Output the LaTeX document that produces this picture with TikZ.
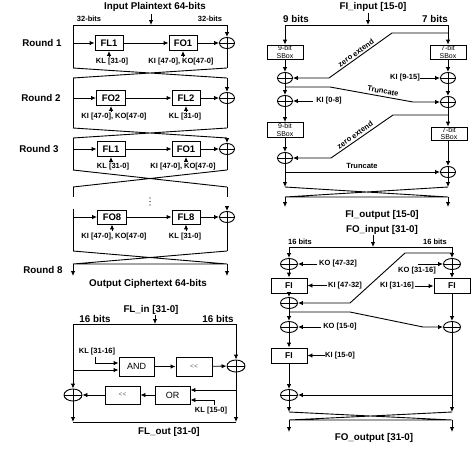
\documentclass[tikz,border=0pt]{standalone}
\usepackage{fontspec}
\setmainfont{Liberation Sans}
\usetikzlibrary{arrows.meta,shapes.geometric,calc}
\tikzset{
  ln/.style={line width=0.9pt},
  arr/.style={line width=0.9pt,-{Latex[length=5pt,width=4.5pt]}},
  bx/.style={draw, line width=0.9pt, inner sep=0pt, font=\fontsize{9.5}{10}\selectfont\bfseries},
  rb/.style={bx, minimum width=28pt, minimum height=15pt},
  fib/.style={bx, minimum width=36pt, minimum height=15pt, font=\fontsize{8.5}{9}\selectfont\bfseries},
  opb/.style={draw, line width=0.9pt, inner sep=0pt, minimum width=35pt, minimum height=19pt, font=\fontsize{9}{10}\selectfont},
  shb/.style={opb, font=\fontsize{6.5}{8}\selectfont\color{black!60}},
  sbox/.style={draw, line width=0.8pt, minimum width=36pt, minimum height=14pt, inner sep=0pt, align=center, font=\fontsize{7}{7.5}\selectfont},
  xorn/.style={draw, ellipse, inner sep=0pt, minimum width=15pt, minimum height=11pt, line width=0.9pt,
     path picture={\draw[line width=0.9pt] (path picture bounding box.north) -- (path picture bounding box.south) (path picture bounding box.west) -- (path picture bounding box.east);}},
  lbl/.style={font=\fontsize{7.5}{8}\selectfont\bfseries, inner sep=0.5pt},
  ttl/.style={font=\fontsize{9.8}{10}\selectfont\bfseries, inner sep=0.5pt},
}
\begin{document}
\begin{tikzpicture}[x=1pt,y=-1pt]
\useasboundingbox[fill=white] (0,0) rectangle (474,451);

% ================= LEFT: rounds =================
\node[ttl] (inp) at (155,7) {Input Plaintext 64-bits};
\coordinate (inpa) at (151,14);
\node[lbl] (b32l) at (89,19) {32-bits};
\node[lbl] (b32r) at (210,19) {32-bits};
\coordinate (r1tl) at (73,25); \coordinate (r1tr) at (227,25);
\coordinate (r1bl) at (73,68); \coordinate (r1br) at (227,68);
\draw[arr] (inpa) -- (inpa |- r1tl);

% Round 1
\node[ttl] (rd1) at (42,43) {Round 1};
\node[rb] (fl1) at (109,43) {FL1};
\node[rb] (fo1) at (183,43) {FO1};
\node[xorn] (x1) at (227,43) {};
\draw[ln] (r1bl) -- (r1tl) -- (r1tr);
\draw[arr] (r1tr) -- (x1);
\draw[ln] (x1) -- (r1br);
\draw[arr] (r1tl |- fl1) -- (fl1);
\draw[arr] (fl1) -- (fo1);
\draw[arr] (fo1) -- (x1);
\node[lbl] (k1a) at (112,62) {KL [31-0]};
\node[lbl] (k1b) at (181,62) {KI [47-0], KO[47-0]};
\draw[arr] (k1a.north -| fl1) ++(0,-2) -- (fl1);
\draw[arr] (k1b.north -| fo1) ++(0,-2) -- (fo1);

% Round 2
\coordinate (r2tl) at (73,78); \coordinate (r2tr) at (227,78);
\coordinate (r2bl) at (73,128); \coordinate (r2br) at (227,128);
\draw[ln] (r1bl) -- (r2tr) (r1br) -- (r2tl);
\node[ttl] (rd2) at (41,98) {Round 2};
\node[rb, minimum width=29pt] (fo2) at (111,98) {FO2};
\node[rb] (fl2) at (186,98) {FL2};
\node[xorn] (x2) at (227,98) {};
\draw[ln] (r2tl) -- (r2bl);
\draw[arr] (r2tr) -- (x2);
\draw[ln] (x2) -- (r2br);
\draw[arr] (r2tl |- fo2) -- (fo2);
\draw[arr] (fo2) -- (fl2);
\draw[arr] (fl2) -- (x2);
\node[lbl] (k2a) at (114,117) {KI [47-0], KO[47-0]};
\node[lbl] (k2b) at (185,117) {KL [31-0]};
\draw[arr] (k2a.north -| fo2) ++(0,-2) -- (fo2);
\draw[arr] (k2b.north -| fl2) ++(0,-2) -- (fl2);

% Round 3
\coordinate (r3tl) at (73,138); \coordinate (r3tr) at (227,138);
\coordinate (r3bl) at (73,170); \coordinate (r3br) at (227,170);
\draw[ln] (r2bl) -- (r3tr) (r2br) -- (r3tl);
\node[ttl] (rd3) at (39,149) {Round 3};
\node[rb] (fl3) at (111,149) {FL1};
\node[rb] (fo3) at (186,149) {FO1};
\node[xorn] (x3) at (227,149) {};
\draw[ln] (r3tl) -- (r3bl);
\draw[arr] (r3tr) -- (x3);
\draw[ln] (x3) -- (r3br);
\draw[arr] (r3tl |- fl3) -- (fl3);
\draw[arr] (fl3) -- (fo3);
\draw[arr] (fo3) -- (x3);
\node[lbl] (k3a) at (113,167) {KL [31-0]};
\node[lbl] (k3b) at (183,167) {KI [47-0], KO[47-0]};
\draw[arr] (k3a.north -| fl3) ++(0,-2) -- (fl3);
\draw[arr] (k3b.north -| fo3) ++(0,-2) -- (fo3);

% cross + stubs + dots
\coordinate (s1l) at (73,187); \coordinate (s1r) at (227,187);
\coordinate (s2l) at (73,197); \coordinate (s2r) at (227,197);
\draw[ln] (r3bl) -- (s1r) (r3br) -- (s1l);
\draw[ln] (s1l) -- (s2l) (s1r) -- (s2r);
\fill (150,198) circle (0.7) (150,201.5) circle (0.7) (150,205) circle (0.7);

% Round 8 frame
\coordinate (r8tl) at (73,209); \coordinate (r8tr) at (227,207);
\coordinate (r8bl) at (73,251); \coordinate (r8br) at (227,251);
\node[rb, minimum width=29pt, minimum height=14pt] (fo8) at (112,217) {FO8};
\node[rb, minimum height=14pt] (fl8) at (186,217) {FL8};
\node[xorn] (x8) at (227,217) {};
\draw[ln] (r8tl) -- (r8bl);
\draw[arr] (r8tr) -- (x8);
\draw[ln] (x8) -- (r8br);
\draw[arr] (r8tl |- fo8) -- (fo8);
\draw[arr] (fo8) -- (fl8);
\draw[arr] (fl8) -- (x8);
\node[lbl] (k8a) at (114,237) {KI [47-0], KO[47-0]};
\node[lbl] (k8b) at (185,237) {KL [31-0]};
\draw[arr] (k8a.north -| fo8) ++(0,-2) -- (fo8);
\draw[arr] (k8b.north -| fl8) ++(0,-2) -- (fl8);

\coordinate (e1l) at (73,264); \coordinate (e1r) at (227,264);
\coordinate (e2l) at (73,276); \coordinate (e2r) at (227,276);
\draw[ln] (r8bl) -- (e1r) (r8br) -- (e1l) (e1l) -- (e1r);
\draw[arr] (e1l) -- (e2l);
\draw[arr] (e1r) -- (e2r);
\node[ttl] (rd8) at (43,270) {Round 8};
\node[ttl] (outp) at (148,284) {Output Ciphertext 64-bits};

% ================= FL function =================
\node[ttl] (flin) at (151,310) {FL\_in [31-0]};
\coordinate (flina) at (155,315);
\node[ttl] (fl16l) at (95,319) {16 bits};
\node[ttl] (fl16r) at (218,319) {16 bits};
\coordinate (fltl) at (73,324); \coordinate (fltr) at (236,324);
\coordinate (flbl) at (73,422); \coordinate (flbr) at (236,422);
\draw[arr] (flina) -- (flina |- fltl);
\node[opb] (andb) at (136.5,366.5) {AND};
\node[shb, minimum width=36pt] (shl1) at (194,366.5) {<{}<};
\node[xorn, minimum width=18pt, minimum height=12pt] (xr) at (236,366) {};
\node[xorn, minimum width=18pt, minimum height=12pt] (xl) at (73,395) {};
\node[opb, minimum height=18pt] (orb) at (172.5,395) {OR};
\node[shb, minimum height=18pt] (shl2) at (122.5,395) {<{}<};
\draw[ln] (fltl) -- (fltr);
\draw[arr] (fltl) -- (xl);
\draw[arr] (xl) -- (flbl);
\draw[arr] (fltr) -- (xr);
\draw[arr] (xr) -- (flbr);
\draw[ln] (flbl) -- (flbr);
\node[lbl] (kl3116) at (97,352) {KL [31-16]};
\coordinate (kla) at (95,357); \coordinate (klb) at (95,363);
\draw[arr] (kla) -- (klb) -- (andb.west |- klb);
\coordinate (andi) at (73,370);
\draw[arr] (andi) -- (andb.west |- andi);
\draw[arr] (andb) -- (shl1);
\draw[arr] (shl1) -- (xr);
\coordinate (ori) at (236,390);
\draw[arr] (ori) -- (orb.east |- ori);
\coordinate (klc) at (214,405); \coordinate (kld) at (214,400);
\draw[arr] (klc) -- (kld) -- (orb.east |- kld);
\node[lbl] (kl150) at (211,411) {KL [15-0]};
\draw[arr] (orb) -- (shl2);
\draw[arr] (shl2) -- (xl);
\node[ttl] (flout) at (169,432) {FL\_out [31-0]};

% ================= FI function =================
\node[ttl] (fiin) at (373,7) {FI\_input [15-0]};
\coordinate (fiina) at (368,13);
\node[ttl] (fi9) at (296,19) {9 bits};
\node[ttl] (fi7) at (435,19) {7 bits};
\coordinate (fitl) at (285,25); \coordinate (fitr) at (448,25);
\draw[arr] (fiina) -- (fiina |- fitl);
\node[sbox] (sb1) at (285,52) {9-bit\\SBox};
\node[sbox] (sb2) at (448,52) {7-bit\\SBox};
\node[xorn] (xa) at (285,78) {};
\node[xorn] (xb) at (448,78) {};
\node[xorn] (xc) at (285,101) {};
\node[xorn] (xd) at (448,102) {};
\draw[ln] (fitl) -- (fitr);
\draw[arr] (fitl) -- (sb1);
\draw[arr] (fitr) -- (sb2);
\draw[arr] (sb1) -- (xa);
\draw[arr] (xa) -- (xc);
\draw[arr] (sb2) -- (xb);
\draw[arr] (xb) -- (xd);
\coordinate (z1a) at (448,33); \coordinate (z1b) at (392,33); \coordinate (z1c) at (329,78);
\draw[arr] (z1a) -- (z1b) -- (z1c) -- (xa);
\node[lbl, rotate=35] (ze1) at (356,53) {zero extend};
\node[lbl] (ki915) at (405,78) {KI [9-15]};
\draw[arr] (ki915) -- (xb);
\node[lbl] (ki08) at (329,101) {KI [0-8]};
\draw[arr] ([xshift=-3pt]ki08.west) -- (xc);
\coordinate (t1a) at (285,87); \coordinate (t1b) at (330,87); \coordinate (t1c) at (413,102);
\draw[arr] (t1a) -- (t1b) -- (t1c) -- (xd);
\node[lbl, rotate=-10] (tr1) at (383,91) {Truncate};

\node[sbox, minimum height=15pt] (sb3) at (285,130) {9-bit\\SBox};
\node[sbox, minimum height=13pt] (sb4) at (449,133.5) {7-bit\\SBox};
\node[xorn] (xe) at (285,158) {};
\node[xorn] (xf) at (448,172) {};
\draw[arr] (xc) -- (sb3);
\draw[arr] (xd) -- (xd |- sb4.north);
\draw[arr] (sb3) -- (xe);
\draw[arr] (sb4.south -| xf) -- (xf);
\coordinate (z2a) at (448,115); \coordinate (z2b) at (393,115); \coordinate (z2c) at (331,158);
\draw[arr] (z2a) -- (z2b) -- (z2c) -- (xe);
\node[lbl, rotate=35] (ze2) at (355,135) {zero extend};
\coordinate (t2a) at (285,172);
\draw[arr] (t2a) -- (xf);
\node[lbl] (tr2) at (362,166) {Truncate};
\coordinate (fic1l) at (285,187); \coordinate (fic1r) at (448,187);
\coordinate (fic2l) at (285,197); \coordinate (fic2r) at (448,197);
\coordinate (fic3l) at (285,207); \coordinate (fic3r) at (448,207);
\draw[arr] (xe) -- (fic1l);
\draw[arr] (xf) -- (fic1r);
\draw[ln] (fic1l) -- (fic2r) (fic1r) -- (fic2l) (fic2l) -- (fic2r);
\draw[arr] (fic2l) -- (fic3l);
\draw[arr] (fic2r) -- (fic3r);
\node[ttl] (fiout) at (382,215) {FI\_output [15-0]};

% ================= FO function =================
\node[ttl] (foin) at (382,230) {FO\_input [31-0]};
\coordinate (foina) at (373,235);
\node[lbl] (fo16l) at (300,242) {16 bits};
\node[lbl] (fo16r) at (435,242) {16 bits};
\coordinate (fotl) at (289,247); \coordinate (fotr) at (452,247);
\draw[arr] (foina) -- (foina |- fotl);
\node[xorn, minimum width=17pt] (ya) at (289,264) {};
\node[xorn, minimum width=17pt] (yb) at (452,264) {};
\node[fib] (fi1) at (289,285.5) {FI};
\node[fib] (fi2) at (452,286) {FI};
\node[xorn, minimum width=17pt] (yc) at (289,303) {};
\node[xorn, minimum width=17pt] (yd) at (452,327) {};
\node[xorn, minimum width=17pt] (ye) at (289,327) {};
\node[fib] (fi3) at (289,355.5) {FI};
\node[xorn, minimum width=17pt] (yf) at (289,395) {};
\draw[ln] (fotl) -- (fotr);
\draw[arr] (fotl) -- (ya);
\draw[arr] (fotr) -- (yb);
\draw[arr] (ya) -- (fi1);
\draw[arr] (yb) -- (fi2);
\draw[arr] (fi1) -- (yc);
\draw[arr] (yc) -- (ye);
\draw[arr] (ye) -- (fi3);
\draw[arr] (fi3) -- (yf);
\draw[arr] (fi2) -- (yd);
\node[lbl] (ko4732) at (338,264) {KO [47-32]};
\draw[arr] ([xshift=-2pt]ko4732.west) -- (ya);
\node[lbl] (ki4732) at (345,285.5) {KI [47-32]};
\draw[arr] (ki4732) -- (fi1);
\node[lbl] (ko3116) at (417,271) {KO [31-16]};
\coordinate (ko3116a) at (418,264);
\draw[arr] (ko3116a) -- (yb);
\node[lbl] (ki3116) at (397,286) {KI [31-16]};
\draw[arr] (ki3116) -- (fi2);
\coordinate (d1a) at (452,253); \coordinate (d1b) at (405,253); \coordinate (d1c) at (350,303);
\draw[arr] (d1a) -- (d1b) -- (d1c) -- (yc);
\coordinate (d2a) at (289,312); \coordinate (d2b) at (350,312); \coordinate (d2c) at (423,327);
\draw[arr] (d2a) -- (d2b) -- (d2c) -- (yd);
\node[lbl] (ko150) at (340,327) {KO [15-0]};
\draw[arr] ([xshift=-2pt]ko150.west) -- (ye);
\node[lbl] (ki150) at (340,355.5) {KI [15-0]};
\draw[arr] (ki150) -- (fi3);
\coordinate (yfr) at (452,395);
\draw[arr] (yfr) -- (yf);
\coordinate (foc0l) at (289,412); \coordinate (foc0r) at (452,412);
\coordinate (foc1l) at (289,420); \coordinate (foc1r) at (452,420);
\coordinate (foc2l) at (289,432); \coordinate (foc2r) at (452,432);
\draw[arr] (yf) -- (foc0l);
\draw[arr] (yd) -- (foc0r);
\draw[ln] (foc0l) -- (foc1r) (foc0r) -- (foc1l) (foc1l) -- (foc1r);
\draw[arr] (foc1l) -- (foc2l);
\draw[arr] (foc1r) -- (foc2r);
\node[ttl] (foout) at (374,438) {FO\_output [31-0]};
\end{tikzpicture}
\end{document}
